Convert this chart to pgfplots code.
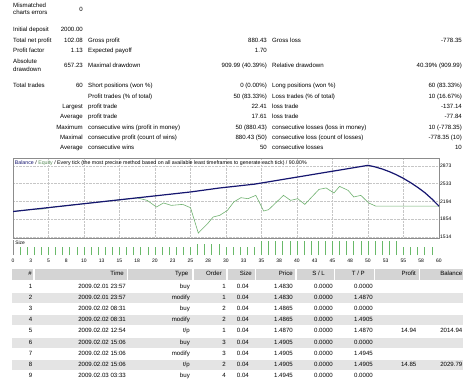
\documentclass[border=0pt]{standalone}
\usepackage{pgfplots}
\pgfplotsset{compat=1.18}
\usepackage{pgfplotstable}
\usepackage{fontspec}
\setmainfont{Liberation Sans}
\definecolor{balblue}{RGB}{22,22,112}
\definecolor{eqgreen}{RGB}{112,178,112}
\definecolor{sizegreen}{RGB}{105,185,105}
\definecolor{hdrgray}{RGB}{212,212,212}
\definecolor{rowgray}{RGB}{228,228,228}
\definecolor{bordergray}{RGB}{140,140,140}

\pgfplotstableread{
t bal
0 2000.00
1 2014.94
2 2029.79
3 2044.69
4 2059.59
5 2074.49
6 2089.39
7 2104.29
8 2119.19
9 2134.09
10 2148.99
11 2163.89
12 2178.79
13 2193.69
14 2208.59
15 2223.49
16 2238.39
17 2253.29
18 2268.19
19 2283.09
20 2297.99
21 2312.89
22 2327.79
23 2342.69
24 2357.59
25 2372.49
26 2391.09
27 2409.69
28 2428.29
29 2446.89
30 2461.79
31 2476.69
32 2491.59
33 2506.49
34 2521.39
35 2543.80
36 2566.21
37 2588.62
38 2611.03
39 2633.44
40 2655.85
41 2678.26
42 2700.67
43 2723.08
44 2745.49
45 2767.90
46 2790.31
47 2812.72
48 2835.13
49 2857.54
50 2880.43
51 2850.43
52 2810.43
53 2760.43
54 2700.43
55 2630.43
56 2550.43
57 2460.43
58 2360.43
59 2239.22
60 2102.08
}\balance

\pgfplotstableread{
t eq
0 2000.00
1 2014.94
2 2029.79
3 2044.69
3.6 2046
4.4 2050
5 2074.49
6 2089.39
7 2104.29
8 2119.19
9 2134.09
10 2148.99
11 2163.89
12 2178.79
13 2193.69
14 2208.59
15 2223.49
16 2238.39
17 2253.29
17.5 2260
18.9 2212
20.2 2086
21.2 2163
22.3 2117
23.9 2136
25.0 2073
26.1 1590
27.4 1768
28.2 1896
29.1 1926
30.2 2021
31.1 2182
32.1 2264
33.1 2245
34.2 2308
35.3 2010
36.0 2035
38.1 2308
39.1 2212
40.1 2245
41.1 2136
43.1 2422
44.1 2449
45.2 2353
46.0 2479
47.2 2403
48.0 2277
49.0 2308
50.1 2163
51.1 2102
60.0 2102
}\equity

\pgfplotstableread{
t size
1 0.04
2 0.04
3 0.04
4 0.04
5 0.04
6 0.04
7 0.04
8 0.04
9 0.04
10 0.04
11 0.04
12 0.04
13 0.04
14 0.04
15 0.04
16 0.04
17 0.04
18 0.04
19 0.04
20 0.04
21 0.04
22 0.04
23 0.04
24 0.04
25 0.04
26 0.05
27 0.05
28 0.05
29 0.05
30 0.04
31 0.04
32 0.04
33 0.04
34 0.04
35 0.06
36 0.06
37 0.06
38 0.06
39 0.06
40 0.06
41 0.06
42 0.06
43 0.06
44 0.06
45 0.06
46 0.06
47 0.06
48 0.06
49 0.06
50 0.06
51 0.06
52 0.06
53 0.06
54 0.06
55 0.04
56 0.04
57 0.04
58 0.04
59 0.04
60 0.04
}\sizes

\newcommand{\Lt}[3]{\node[anchor=west] at (#1,#2) {#3};}
\newcommand{\Rt}[3]{\node[anchor=east] at (#1,#2) {#3};}

\begin{document}
\begin{tikzpicture}
\useasboundingbox (0pt,0pt) rectangle (474pt,-378pt);
\fill[white] (0pt,0pt) rectangle (474pt,-378pt);
\begin{scope}[x=1pt,y=-1pt,every node/.style={font=\fontsize{6.1}{7}\selectfont, inner sep=0pt, text height=4.5pt, text depth=1.3pt}]
% ---- statistics block
\Lt{13}{6}{Mismatched}
\Lt{13}{13.3}{charts errors}
\Rt{83}{10}{0}
\Lt{13}{29.5}{Initial deposit}
\Rt{83}{29.5}{2000.00}
\Lt{13}{40.5}{Total net profit}
\Rt{83}{40.5}{102.08}
\Lt{88}{40.5}{Gross profit}
\Rt{267}{40.5}{880.43}
\Lt{272}{40.5}{Gross loss}
\Rt{462}{40.5}{-778.35}
\Lt{13}{51}{Profit factor}
\Rt{83}{51}{1.13}
\Lt{88}{51}{Expected payoff}
\Rt{267}{51}{1.70}
\Lt{13}{62}{Absolute}
\Lt{13}{69.5}{drawdown}
\Rt{83}{65.7}{657.23}
\Lt{88}{65.7}{Maximal drawdown}
\Rt{267}{65.7}{909.99 (40.39\%)}
\Lt{272}{65.7}{Relative drawdown}
\Rt{462}{65.7}{40.39\% (909.99)}
\Lt{13}{86}{Total trades}
\Rt{83}{86}{60}
\Lt{88}{86}{Short positions (won \%)}
\Rt{267}{86}{0 (0.00\%)}
\Lt{272}{86}{Long positions (won \%)}
\Rt{462}{86}{60 (83.33\%)}
\Lt{88}{96.7}{Profit trades (\% of total)}
\Rt{267}{96.7}{50 (83.33\%)}
\Lt{272}{96.7}{Loss trades (\% of total)}
\Rt{462}{96.7}{10 (16.67\%)}
\Rt{83}{106.9}{Largest}
\Lt{88}{106.9}{profit trade}
\Rt{267}{106.9}{22.41}
\Lt{272}{106.9}{loss trade}
\Rt{462}{106.9}{-137.14}
\Rt{83}{117.3}{Average}
\Lt{88}{117.3}{profit trade}
\Rt{267}{117.3}{17.61}
\Lt{272}{117.3}{loss trade}
\Rt{462}{117.3}{-77.84}
\Rt{83}{127.7}{Maximum}
\Lt{88}{127.7}{consecutive wins (profit in money)}
\Rt{267}{127.7}{50 (880.43)}
\Lt{272}{127.7}{consecutive losses (loss in money)}
\Rt{462}{127.7}{10 (-778.35)}
\Rt{83}{137.8}{Maximal}
\Lt{88}{137.8}{consecutive profit (count of wins)}
\Rt{267}{137.8}{880.43 (50)}
\Lt{272}{137.8}{consecutive loss (count of losses)}
\Rt{462}{137.8}{-778.35 (10)}
\Rt{83}{148.2}{Average}
\Lt{88}{148.2}{consecutive wins}
\Rt{267}{148.2}{50}
\Lt{272}{148.2}{consecutive losses}
\Rt{462}{148.2}{10}
% ---- table backgrounds
\fill[hdrgray] (12,268.5) rectangle (463,280);
\foreach \sx in {34,127.3,192.7,226.7,255.3,295.7,334.3,374.3,419.3}
  {\fill[white] (\sx-0.8,268.5) rectangle (\sx+0.8,280);}
\foreach \r in {2,4,6,8}
  {\fill[rowgray] (12,{286.7+(\r-1)*11.16-5}) rectangle (463,{286.7+(\r-1)*11.16+5});}
% header
\Rt{32}{274.3}{\#}
\Rt{124}{274.3}{Time}
\Rt{188.5}{274.3}{Type}
\Rt{222}{274.3}{Order}
\Rt{252}{274.3}{Size}
\Rt{293}{274.3}{Price}
\Rt{325}{274.3}{S / L}
\Rt{365}{274.3}{T / P}
\Rt{416}{274.3}{Profit}
\Rt{462.5}{274.3}{Balance}
% rows
\foreach \n/\tm/\ty/\od/\pr/\sl/\tp/\pf/\bl in {
 1/2009.02.01 23:57/buy/1/1.4830/0.0000/0.0000//,
 2/2009.02.01 23:57/modify/1/1.4830/0.0000/1.4870//,
 3/2009.02.02 08:31/buy/2/1.4865/0.0000/0.0000//,
 4/2009.02.02 08:31/modify/2/1.4865/0.0000/1.4905//,
 5/2009.02.02 12:54/{t/p}/1/1.4870/0.0000/1.4870/14.94/2014.94,
 6/2009.02.02 15:06/buy/3/1.4905/0.0000/0.0000//,
 7/2009.02.02 15:06/modify/3/1.4905/0.0000/1.4945//,
 8/2009.02.02 15:06/{t/p}/2/1.4905/0.0000/1.4905/14.85/2029.79,
 9/2009.02.03 03:33/buy/4/1.4945/0.0000/0.0000//}
{
 \pgfmathsetmacro{\yy}{286.7+(\n-1)*11.16}
 \Rt{32.5}{\yy}{\n}
 \Rt{126}{\yy}{\tm}
 \Rt{190}{\yy}{\ty}
 \Rt{226}{\yy}{\od}
 \Rt{249}{\yy}{0.04}
 \Rt{293}{\yy}{\pr}
 \Rt{333}{\yy}{\sl}
 \Rt{373}{\yy}{\tp}
 \Rt{416.5}{\yy}{\pf}
 \Rt{462.5}{\yy}{\bl}
}
\end{scope}

% ---- main balance / equity chart
\begin{axis}[
  at={(13pt,-158pt)}, anchor=north west, scale only axis,
  width=426pt, height=80pt,
  xmin=0, xmax=60, ymin=1495, ymax=3020,
  axis line style={draw=bordergray, line width=0.9pt},
  xtick={0,5,...,60}, xticklabels={},
  ytick={1514,1854,2194,2533,2873},
  yticklabels={1514,1854,2194,2533,2873},
  yticklabel pos=right,
  yticklabel style={font=\fontsize{5}{6}\selectfont, inner sep=1pt, xshift=0pt},
  major tick length=0pt,
  grid=major, grid style={densely dotted, gray!45, line width=0.4pt},
]
\addplot[color=eqgreen, line width=0.6pt, mark=none] table[x=t,y=eq] {\equity};
\addplot[color=balblue, line width=1.2pt, mark=none] table[x=t,y=bal] {\balance};
\node[anchor=north west, inner sep=0pt, font=\fontsize{5.25}{6}\selectfont] at (rel axis cs:0.004,0.97)
  {\textcolor{balblue}{Balance} / \textcolor{eqgreen!80!black}{Equity} / Every tick (the most precise method based on all available least timeframes to generate each tick) / 90.00\%};
\end{axis}

% ---- size chart
\begin{axis}[
  at={(13pt,-240pt)}, anchor=north west, scale only axis,
  width=426pt, height=15pt,
  xmin=0, xmax=60, ymin=0.0133, ymax=0.0633,
  axis line style={draw=none},
  ytick=\empty,
  xtick={0,2.5,...,60},
  xticklabels={0,3,5,8,10,13,15,18,20,23,25,28,30,33,35,38,40,43,45,48,50,53,55,58,60},
  xticklabel style={font=\fontsize{5}{6}\selectfont, inner sep=1pt, yshift=-3pt},
  major tick length=0pt,
]
\draw[bordergray, line width=0.8pt] (rel axis cs:0,0) -- (rel axis cs:0,1);
\addplot[ycomb, color=sizegreen, line width=0.7pt, mark=none] table[x=t,y=size] {\sizes};
\node[anchor=north west, inner sep=0pt, font=\fontsize{4.9}{6}\selectfont] at (rel axis cs:0.005,0.95) {Size};
\end{axis}
\end{tikzpicture}
\end{document}
